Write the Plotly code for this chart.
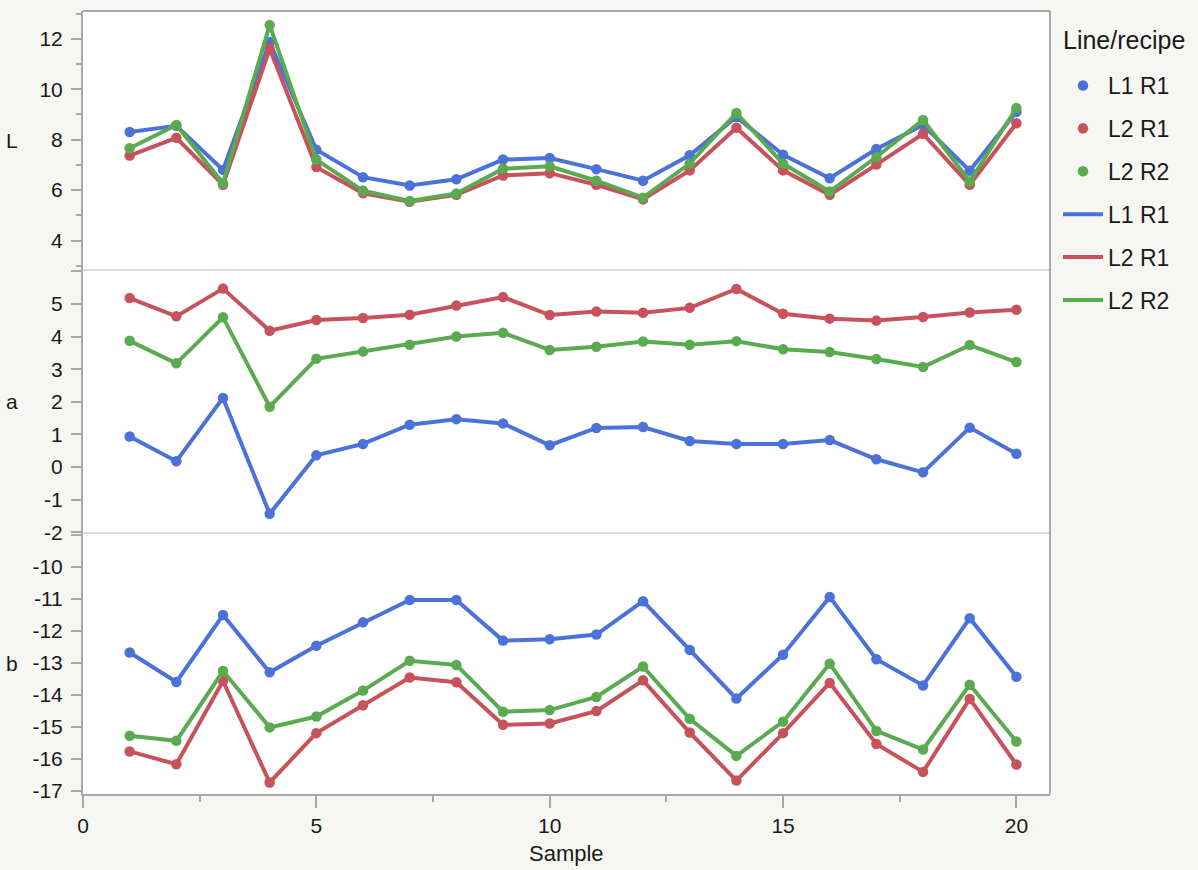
import plotly.graph_objects as go

samples = list(range(1, 21))
series_names = ["L1 R1", "L2 R1", "L2 R2"]
colors = ["#4A72D9", "#C8525B", "#5AAA50"]

L_L1R1 = [8.30, 8.55, 6.80, 11.87, 7.60, 6.51, 6.18, 6.43, 7.21, 7.27, 6.83, 6.37, 7.38, 8.90, 7.40, 6.47, 7.63, 8.58, 6.77, 9.10]
L_L2R1 = [7.37, 8.07, 6.21, 11.60, 6.91, 5.87, 5.54, 5.81, 6.58, 6.67, 6.21, 5.63, 6.78, 8.47, 6.78, 5.81, 7.01, 8.23, 6.21, 8.65]
L_L2R2 = [7.66, 8.58, 6.27, 12.54, 7.21, 5.97, 5.57, 5.86, 6.85, 6.94, 6.37, 5.70, 7.05, 9.06, 7.05, 5.94, 7.31, 8.78, 6.34, 9.25]

a_L1R1 = [0.94, 0.18, 2.12, -1.43, 0.36, 0.71, 1.30, 1.47, 1.34, 0.67, 1.20, 1.23, 0.80, 0.71, 0.71, 0.83, 0.24, -0.16, 1.21, 0.41]
a_L2R1 = [5.18, 4.62, 5.47, 4.18, 4.51, 4.57, 4.67, 4.95, 5.21, 4.66, 4.77, 4.73, 4.88, 5.46, 4.70, 4.55, 4.49, 4.60, 4.74, 4.82]
a_L2R2 = [3.87, 3.18, 4.59, 1.85, 3.32, 3.54, 3.75, 4.00, 4.12, 3.59, 3.69, 3.85, 3.75, 3.86, 3.61, 3.53, 3.31, 3.07, 3.74, 3.22]

b_L1R1 = [-12.68, -13.60, -11.51, -13.30, -12.47, -11.74, -11.04, -11.04, -12.31, -12.27, -12.12, -11.08, -12.60, -14.12, -12.75, -10.95, -12.89, -13.71, -11.61, -13.44]
b_L2R1 = [-15.77, -16.17, -13.57, -16.74, -15.20, -14.33, -13.46, -13.61, -14.94, -14.90, -14.51, -13.55, -15.18, -16.68, -15.20, -13.63, -15.54, -16.41, -14.13, -16.18]
b_L2R2 = [-15.28, -15.44, -13.26, -15.02, -14.68, -13.87, -12.94, -13.07, -14.53, -14.48, -14.07, -13.12, -14.75, -15.91, -14.84, -13.03, -15.13, -15.71, -13.69, -15.46]

panels = [
    ("L", "y", [L_L1R1, L_L2R1, L_L2R2]),
    ("a", "y2", [a_L1R1, a_L2R1, a_L2R2]),
    ("b", "y3", [b_L1R1, b_L2R1, b_L2R2]),
]

x_ticks = [0, 5, 10, 15, 20]
L_ticks = [4, 6, 8, 10, 12]
a_ticks = [-2, -1, 0, 1, 2, 3, 4, 5, 6]
a_labels = ["-2", "-1", "0", "1", "2", "3", "4", "5", ""]
b_ticks = [-17, -16, -15, -14, -13, -12, -11, -10, -9]
b_labels = ["-17", "-16", "-15", "-14", "-13", "-12", "-11", "-10", ""]

FONT = "Liberation Sans, Arial, Helvetica, sans-serif"
AX = "#A8A8A8"
BG = "#F6F6F2"

fig = go.Figure()
for pi, (pname, yax, data) in enumerate(panels):
    for si, name in enumerate(series_names):
        fig.add_trace(go.Scatter(
            x=samples, y=data[si], mode="lines", name=name, xaxis="x", yaxis=yax,
            line=dict(color=colors[si], width=4),
            legendgroup="line" + name, showlegend=(pi == 0), legendrank=4 + si,
            hoverinfo="skip"))
        fig.add_trace(go.Scatter(
            x=samples, y=data[si], mode="markers", name=name, xaxis="x", yaxis=yax,
            marker=dict(color=colors[si], size=10.5),
            legendgroup="mark" + name, showlegend=(pi == 0), legendrank=1 + si))

b1 = 0.3333
b2 = 0.6692

def yaxis(domain, rng, tickvals, ticktext=None, minor=None):
    d = dict(domain=domain, range=rng, tickmode="array", tickvals=tickvals,
             showline=True, linecolor=AX, linewidth=2, ticks="outside", ticklen=10,
             tickwidth=2, tickcolor=AX, showgrid=False, zeroline=False, anchor="x",
             ticklabelstandoff=4,
             tickfont=dict(size=21, color="#1a1a1a", family=FONT))
    if ticktext is not None:
        d["ticktext"] = ticktext
    if minor is not None:
        d["minor"] = minor
    return d

def px_y(py):
    return (794 - py) / 783.0

def px_x(px):
    return (px - 83) / 967.0

fig.update_layout(
    width=1198, height=870,
    margin=dict(l=83, r=148, t=11, b=76),
    paper_bgcolor=BG, plot_bgcolor="#FFFFFF",
    font=dict(family=FONT, color="#1a1a1a"),
    showlegend=True,
    xaxis=dict(domain=[0, 1], range=[0, 20.72], anchor="y3", tickmode="array", tickvals=x_ticks,
               showline=True, linecolor=AX, linewidth=2, ticks="outside", ticklen=12,
               tickwidth=2, tickcolor=AX, showgrid=False, zeroline=False,
               minor=dict(dtick=2.5, tick0=0, ticklen=6, tickwidth=2, tickcolor=AX, ticks="outside"),
               tickfont=dict(size=21, color="#1a1a1a", family=FONT)),
    yaxis=yaxis([b2, 1], [2.83, 13.1], L_ticks,
                minor=dict(dtick=1, tick0=0, ticklen=5, tickwidth=2, tickcolor=AX, ticks="outside")),
    yaxis2=yaxis([b1, b2], [-2.02, 6.04], a_ticks, a_labels),
    yaxis3=yaxis([0, b1], [-17.1, -8.95], b_ticks, b_labels),
    legend=dict(x=px_x(1058), y=px_y(64), xanchor="left", yanchor="top",
                font=dict(size=23, family=FONT, color="#1a1a1a"),
                traceorder="grouped", tracegroupgap=10, itemwidth=40,
                bgcolor="rgba(0,0,0,0)"),
    shapes=[
        dict(type="line", xref="paper", yref="paper", x0=0, x1=1, y0=b1, y1=b1,
             line=dict(color="#DCDCDC", width=2)),
        dict(type="line", xref="paper", yref="paper", x0=0, x1=1, y0=b2, y1=b2,
             line=dict(color="#DCDCDC", width=2)),
        dict(type="line", xref="paper", yref="paper", x0=0, x1=1, y0=1, y1=1,
             line=dict(color=AX, width=2)),
        dict(type="line", xref="paper", yref="paper", x0=1, x1=1, y0=0, y1=1,
             line=dict(color=AX, width=2)),
    ],
    annotations=[
        dict(text="Line/recipe", xref="paper", yref="paper", x=px_x(1061), y=px_y(40),
             showarrow=False, xanchor="left", yanchor="middle", font=dict(size=25)),
        dict(text="L", xref="paper", yref="paper", x=px_x(12), y=(b2 + 1) / 2,
             showarrow=False, xanchor="center", yanchor="middle", font=dict(size=21)),
        dict(text="a", xref="paper", yref="paper", x=px_x(12), y=(b1 + b2) / 2,
             showarrow=False, xanchor="center", yanchor="middle", font=dict(size=21)),
        dict(text="b", xref="paper", yref="paper", x=px_x(12), y=b1 / 2,
             showarrow=False, xanchor="center", yanchor="middle", font=dict(size=21)),
        dict(text="Sample", xref="paper", yref="paper", x=0.5, y=px_y(853),
             showarrow=False, xanchor="center", yanchor="middle", font=dict(size=22)),
    ],
)

fig.write_html(
    "out.html",
    config={"displayModeBar": False},
    post_script="document.body.style.margin='0';document.body.style.padding='0';"
                "document.body.style.background='" + BG + "';",
)
